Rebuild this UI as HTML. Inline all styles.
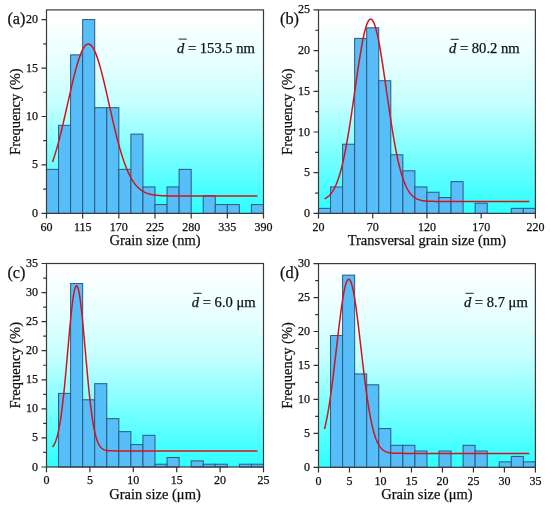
<!DOCTYPE html>
<html><head><meta charset="utf-8"><style>
html,body{margin:0;padding:0;background:#fff;}
body{width:550px;height:508px;overflow:hidden;}
svg{display:block;}
text{font-family:"Liberation Serif", "Times New Roman", serif;fill:#111;stroke:#111;stroke-width:0.25px;}
.tl{font-size:12px;}
.at{font-size:14.5px;}
.pl{font-size:16.3px;}
.dl{font-size:14.6px;}
.it{font-style:italic;}
.bar{fill:#58befa;stroke:#2d587a;stroke-width:1;}
.fit{fill:none;stroke:#d4121c;stroke-width:1.5;stroke-linejoin:round;}
.frame{fill:none;stroke:#3a3a3a;stroke-width:1.2;}
.tick{fill:none;stroke:#333;stroke-width:1.2;}
.ov{fill:none;stroke:#222;stroke-width:1;}
</style></head><body>
<svg width="550" height="508" viewBox="0 0 550 508">
<defs>
<linearGradient id="ga" x1="0" y1="0" x2="0" y2="1"><stop offset="0.000" stop-color="rgb(255,255,255)"/><stop offset="0.044" stop-color="rgb(253,255,255)"/><stop offset="0.270" stop-color="rgb(229,255,255)"/><stop offset="0.467" stop-color="rgb(195,255,255)"/><stop offset="0.664" stop-color="rgb(137,255,255)"/><stop offset="0.836" stop-color="rgb(87,255,255)"/><stop offset="0.940" stop-color="rgb(60,255,255)"/><stop offset="1.000" stop-color="rgb(46,255,255)"/></linearGradient>
<linearGradient id="gb" x1="0" y1="0" x2="0" y2="1"><stop offset="0.000" stop-color="rgb(255,255,255)"/><stop offset="0.044" stop-color="rgb(253,255,255)"/><stop offset="0.270" stop-color="rgb(229,255,255)"/><stop offset="0.467" stop-color="rgb(195,255,255)"/><stop offset="0.664" stop-color="rgb(137,255,255)"/><stop offset="0.836" stop-color="rgb(87,255,255)"/><stop offset="0.940" stop-color="rgb(60,255,255)"/><stop offset="1.000" stop-color="rgb(46,255,255)"/></linearGradient>
<linearGradient id="gc" x1="0" y1="0" x2="0" y2="1"><stop offset="0.000" stop-color="rgb(255,255,255)"/><stop offset="0.044" stop-color="rgb(253,255,255)"/><stop offset="0.270" stop-color="rgb(229,255,255)"/><stop offset="0.467" stop-color="rgb(195,255,255)"/><stop offset="0.664" stop-color="rgb(137,255,255)"/><stop offset="0.836" stop-color="rgb(87,255,255)"/><stop offset="0.940" stop-color="rgb(60,255,255)"/><stop offset="1.000" stop-color="rgb(46,255,255)"/></linearGradient>
<linearGradient id="gd" x1="0" y1="0" x2="0" y2="1"><stop offset="0.000" stop-color="rgb(255,255,255)"/><stop offset="0.044" stop-color="rgb(253,255,255)"/><stop offset="0.270" stop-color="rgb(229,255,255)"/><stop offset="0.467" stop-color="rgb(195,255,255)"/><stop offset="0.664" stop-color="rgb(137,255,255)"/><stop offset="0.836" stop-color="rgb(87,255,255)"/><stop offset="0.940" stop-color="rgb(60,255,255)"/><stop offset="1.000" stop-color="rgb(46,255,255)"/></linearGradient>
</defs>
<g id="pa">
<rect x="46.5" y="9.9" width="217" height="203.5" fill="url(#ga)"/>
<rect class="bar" x="46.5" y="169.36" width="12.06" height="44.04"/>
<rect class="bar" x="58.56" y="125.31" width="12.06" height="88.09"/>
<rect class="bar" x="70.61" y="54.86" width="12.06" height="158.54"/>
<rect class="bar" x="82.67" y="19.59" width="12.06" height="193.81"/>
<rect class="bar" x="94.72" y="107.68" width="12.06" height="105.72"/>
<rect class="bar" x="106.78" y="107.68" width="12.06" height="105.72"/>
<rect class="bar" x="118.83" y="169.36" width="12.06" height="44.04"/>
<rect class="bar" x="130.89" y="134.13" width="12.06" height="79.27"/>
<rect class="bar" x="142.94" y="186.94" width="12.06" height="26.46"/>
<rect class="bar" x="155" y="204.59" width="12.06" height="8.81"/>
<rect class="bar" x="167.06" y="186.94" width="12.06" height="26.46"/>
<rect class="bar" x="179.11" y="169.36" width="12.06" height="44.04"/>
<rect class="bar" x="203.22" y="195.76" width="12.06" height="17.64"/>
<rect class="bar" x="215.28" y="204.59" width="12.06" height="8.81"/>
<rect class="bar" x="227.33" y="204.59" width="12.06" height="8.81"/>
<rect class="bar" x="251.44" y="204.59" width="12.06" height="8.81"/>
<polyline class="fit" points="52.53,161.98 53.21,160.00 53.89,157.95 54.58,155.82 55.26,153.62 55.94,151.35 56.63,149.01 57.31,146.59 57.99,144.12 58.68,141.57 59.36,138.97 60.04,136.30 60.73,133.58 61.41,130.80 62.09,127.98 62.77,125.11 63.46,122.20 64.14,119.25 64.82,116.27 65.51,113.27 66.19,110.25 66.87,107.21 67.56,104.17 68.24,101.13 68.92,98.09 69.61,95.07 70.29,92.06 70.97,89.08 71.66,86.14 72.34,83.24 73.02,80.39 73.71,77.59 74.39,74.86 75.07,72.20 75.75,69.63 76.44,67.14 77.12,64.74 77.80,62.44 78.49,60.25 79.17,58.18 79.85,56.23 80.54,54.40 81.22,52.71 81.90,51.16 82.59,49.74 83.27,48.48 83.95,47.36 84.64,46.40 85.32,45.60 86.00,44.96 86.69,44.49 87.37,44.17 88.05,44.02 88.73,44.04 89.42,44.22 90.10,44.57 90.78,45.08 91.47,45.76 92.15,46.59 92.83,47.58 93.52,48.73 94.20,50.03 94.88,51.47 95.57,53.05 96.25,54.77 96.93,56.63 97.62,58.60 98.30,60.70 98.98,62.91 99.66,65.23 100.35,67.65 101.03,70.16 101.71,72.75 102.40,75.43 103.08,78.17 103.76,80.98 104.45,83.84 105.13,86.75 105.81,89.70 106.50,92.69 107.18,95.69 107.86,98.72 108.55,101.76 109.23,104.81 109.91,107.85 110.60,110.88 111.28,113.90 111.96,116.90 112.64,119.87 113.33,122.81 114.01,125.71 114.69,128.57 115.38,131.39 116.06,134.15 116.74,136.86 117.43,139.52 118.11,142.11 118.79,144.64 119.48,147.10 120.16,149.50 120.84,151.83 121.53,154.08 122.21,156.27 122.89,158.38 123.58,160.42 124.26,162.38 124.94,164.27 125.62,166.09 126.31,167.83 126.99,169.50 127.67,171.10 128.36,172.63 129.04,174.08 129.72,175.47 130.41,176.79 131.09,178.05 131.77,179.24 132.46,180.37 133.14,181.44 133.82,182.45 134.51,183.40 135.19,184.30 135.87,185.15 136.56,185.95 137.24,186.69 137.92,187.39 138.60,188.05 139.29,188.66 139.97,189.24 140.65,189.77 141.34,190.27 142.02,190.74 142.70,191.17 143.39,191.57 144.07,191.94 144.75,192.29 145.44,192.60 146.12,192.90 146.80,193.17 147.49,193.42 148.17,193.65 148.85,193.86 149.53,194.05 150.22,194.23 150.90,194.40 151.58,194.55 152.27,194.68 152.95,194.81 153.63,194.92 154.32,195.02 155.00,195.12 155.68,195.20 156.37,195.28 157.05,195.35 157.73,195.41 158.42,195.47 159.10,195.52 159.78,195.57 160.47,195.61 161.15,195.65 161.83,195.68 162.51,195.71 163.20,195.74 163.88,195.77 164.56,195.79 165.25,195.81 165.93,195.82 166.61,195.84 167.30,195.85 167.98,195.87 168.66,195.88 169.35,195.89 170.03,195.90 170.71,195.90 171.40,195.91 172.08,195.92 172.76,195.92 173.44,195.93 174.13,195.93 174.81,195.93 175.49,195.94 176.18,195.94 176.86,195.94 177.54,195.94 178.23,195.95 178.91,195.95 179.59,195.95 180.28,195.95 180.96,195.95 181.64,195.95 182.33,195.95 183.01,195.95 183.69,195.95 184.38,195.95 185.06,195.95 185.74,195.95 186.42,195.96 187.11,195.96 187.79,195.96 188.47,195.96 189.16,195.96 189.84,195.96 190.52,195.96 191.21,195.96 191.89,195.96 192.57,195.96 193.26,195.96 193.94,195.96 194.62,195.96 195.31,195.96 195.99,195.96 196.67,195.96 197.36,195.96 198.04,195.96 198.72,195.96 199.40,195.96 200.09,195.96 200.77,195.96 201.45,195.96 202.14,195.96 202.82,195.96 203.50,195.96 204.19,195.96 204.87,195.96 205.55,195.96 206.24,195.96 206.92,195.96 207.60,195.96 208.29,195.96 208.97,195.96 209.65,195.96 210.33,195.96 211.02,195.96 211.70,195.96 212.38,195.96 213.07,195.96 213.75,195.96 214.43,195.96 215.12,195.96 215.80,195.96 216.48,195.96 217.17,195.96 217.85,195.96 218.53,195.96 219.22,195.96 219.90,195.96 220.58,195.96 221.27,195.96 221.95,195.96 222.63,195.96 223.31,195.96 224.00,195.96 224.68,195.96 225.36,195.96 226.05,195.96 226.73,195.96 227.41,195.96 228.10,195.96 228.78,195.96 229.46,195.96 230.15,195.96 230.83,195.96 231.51,195.96 232.20,195.96 232.88,195.96 233.56,195.96 234.25,195.96 234.93,195.96 235.61,195.96 236.29,195.96 236.98,195.96 237.66,195.96 238.34,195.96 239.03,195.96 239.71,195.96 240.39,195.96 241.08,195.96 241.76,195.96 242.44,195.96 243.13,195.96 243.81,195.96 244.49,195.96 245.18,195.96 245.86,195.96 246.54,195.96 247.22,195.96 247.91,195.96 248.59,195.96 249.27,195.96 249.96,195.96 250.64,195.96 251.32,195.96 252.01,195.96 252.69,195.96 253.37,195.96 254.06,195.96 254.74,195.96 255.42,195.96 256.11,195.96 256.79,195.96 257.47,195.96"/>
<rect class="frame" x="46.5" y="9.9" width="217" height="203.5"/>
<path class="tick" d="M46.5 213.4v5.2 M82.67 213.4v5.2 M118.83 213.4v5.2 M155 213.4v5.2 M191.17 213.4v5.2 M227.33 213.4v5.2 M263.5 213.4v5.2 M46.5 213.4h-5 M46.5 164.95h-5 M46.5 116.5h-5 M46.5 68.04h-5 M46.5 19.59h-5 M46.5 189.17h-3.3 M46.5 140.72h-3.3 M46.5 92.27h-3.3 M46.5 43.82h-3.3"/>
<text class="tl" x="46.5" y="230.7" text-anchor="middle">60</text>
<text class="tl" x="82.67" y="230.7" text-anchor="middle">115</text>
<text class="tl" x="118.83" y="230.7" text-anchor="middle">170</text>
<text class="tl" x="155" y="230.7" text-anchor="middle">225</text>
<text class="tl" x="191.17" y="230.7" text-anchor="middle">280</text>
<text class="tl" x="227.33" y="230.7" text-anchor="middle">335</text>
<text class="tl" x="263.5" y="230.7" text-anchor="middle">390</text>
<text class="tl" x="38.1" y="216.9" text-anchor="end">0</text>
<text class="tl" x="38.1" y="168.45" text-anchor="end">5</text>
<text class="tl" x="38.1" y="120" text-anchor="end">10</text>
<text class="tl" x="38.1" y="71.54" text-anchor="end">15</text>
<text class="tl" x="38.1" y="23.09" text-anchor="end">20</text>
<text class="at" x="155" y="245.2" text-anchor="middle">Grain size (nm)</text>
<text class="at" transform="translate(20.1,111.65) rotate(-90)" x="0" y="0" text-anchor="middle">Frequency (%)</text>
<text class="pl" x="7.4" y="23.7">(a)</text>
<text class="dl" x="177" y="52.6"><tspan class="it">d</tspan> = 153.5 nm</text>
<path class="ov" d="M178.6 39.1h8.2"/>
</g>
<g id="pb">
<rect x="318.5" y="9.9" width="216.9" height="203.5" fill="url(#gb)"/>
<rect class="bar" x="318.5" y="208.35" width="12.05" height="5.05"/>
<rect class="bar" x="330.55" y="186.94" width="12.05" height="26.46"/>
<rect class="bar" x="342.6" y="144.21" width="12.05" height="69.19"/>
<rect class="bar" x="354.65" y="38.39" width="12.05" height="175.01"/>
<rect class="bar" x="366.7" y="27.81" width="12.05" height="185.59"/>
<rect class="bar" x="378.75" y="80.72" width="12.05" height="132.68"/>
<rect class="bar" x="390.8" y="154.79" width="12.05" height="58.61"/>
<rect class="bar" x="402.85" y="170.83" width="12.05" height="42.57"/>
<rect class="bar" x="414.9" y="186.94" width="12.05" height="26.46"/>
<rect class="bar" x="426.95" y="192.24" width="12.05" height="21.16"/>
<rect class="bar" x="439" y="197.53" width="12.05" height="15.87"/>
<rect class="bar" x="451.05" y="181.65" width="12.05" height="31.75"/>
<rect class="bar" x="475.15" y="203.22" width="12.05" height="10.18"/>
<rect class="bar" x="511.3" y="208.35" width="12.05" height="5.05"/>
<rect class="bar" x="523.35" y="208.35" width="12.05" height="5.05"/>
<polyline class="fit" points="324.52,198.82 325.21,198.48 325.89,198.09 326.57,197.66 327.26,197.18 327.94,196.65 328.62,196.07 329.30,195.42 329.99,194.71 330.67,193.93 331.35,193.07 332.04,192.13 332.72,191.11 333.40,190.00 334.08,188.79 334.77,187.48 335.45,186.06 336.13,184.53 336.82,182.88 337.50,181.10 338.18,179.20 338.86,177.17 339.55,175.00 340.23,172.69 340.91,170.23 341.60,167.63 342.28,164.88 342.96,161.98 343.64,158.92 344.33,155.72 345.01,152.36 345.69,148.86 346.38,145.21 347.06,141.42 347.74,137.50 348.42,133.44 349.11,129.26 349.79,124.97 350.47,120.57 351.16,116.08 351.84,111.51 352.52,106.86 353.20,102.17 353.89,97.43 354.57,92.67 355.25,87.90 355.94,83.14 356.62,78.41 357.30,73.73 357.98,69.12 358.67,64.60 359.35,60.19 360.03,55.90 360.72,51.76 361.40,47.80 362.08,44.02 362.76,40.44 363.45,37.09 364.13,33.99 364.81,31.14 365.50,28.56 366.18,26.27 366.86,24.28 367.54,22.61 368.23,21.25 368.91,20.22 369.59,19.52 370.27,19.15 370.96,19.13 371.64,19.44 372.32,20.10 373.01,21.08 373.69,22.39 374.37,24.03 375.05,25.97 375.74,28.22 376.42,30.76 377.10,33.57 377.79,36.64 378.47,39.95 379.15,43.50 379.83,47.25 380.52,51.19 381.20,55.31 381.88,59.57 382.57,63.97 383.25,68.48 383.93,73.08 384.61,77.75 385.30,82.47 385.98,87.22 386.66,91.99 387.35,96.76 388.03,101.50 388.71,106.20 389.39,110.86 390.08,115.44 390.76,119.94 391.44,124.36 392.13,128.67 392.81,132.86 393.49,136.93 394.17,140.88 394.86,144.69 395.54,148.36 396.22,151.88 396.91,155.25 397.59,158.48 398.27,161.55 398.95,164.48 399.64,167.25 400.32,169.87 401.00,172.35 401.69,174.68 402.37,176.87 403.05,178.92 403.73,180.84 404.42,182.63 405.10,184.30 405.78,185.85 406.47,187.28 407.15,188.61 407.83,189.83 408.51,190.96 409.20,192.00 409.88,192.94 410.56,193.81 411.24,194.60 411.93,195.32 412.61,195.98 413.29,196.57 413.98,197.11 414.66,197.59 415.34,198.03 416.02,198.42 416.71,198.78 417.39,199.09 418.07,199.37 418.76,199.62 419.44,199.85 420.12,200.05 420.80,200.22 421.49,200.38 422.17,200.52 422.85,200.64 423.54,200.74 424.22,200.84 424.90,200.92 425.58,200.99 426.27,201.05 426.95,201.11 427.63,201.15 428.32,201.19 429.00,201.23 429.68,201.26 430.36,201.28 431.05,201.31 431.73,201.33 432.41,201.34 433.10,201.36 433.78,201.37 434.46,201.38 435.14,201.39 435.83,201.40 436.51,201.40 437.19,201.41 437.88,201.41 438.56,201.42 439.24,201.42 439.92,201.42 440.61,201.42 441.29,201.43 441.97,201.43 442.66,201.43 443.34,201.43 444.02,201.43 444.70,201.43 445.39,201.43 446.07,201.43 446.75,201.43 447.44,201.43 448.12,201.43 448.80,201.43 449.48,201.43 450.17,201.43 450.85,201.43 451.53,201.43 452.21,201.43 452.90,201.43 453.58,201.43 454.26,201.43 454.95,201.43 455.63,201.43 456.31,201.43 456.99,201.43 457.68,201.43 458.36,201.43 459.04,201.43 459.73,201.43 460.41,201.43 461.09,201.43 461.77,201.43 462.46,201.43 463.14,201.43 463.82,201.43 464.51,201.43 465.19,201.43 465.87,201.43 466.55,201.43 467.24,201.43 467.92,201.43 468.60,201.43 469.29,201.43 469.97,201.43 470.65,201.43 471.33,201.43 472.02,201.43 472.70,201.43 473.38,201.43 474.07,201.43 474.75,201.43 475.43,201.43 476.11,201.43 476.80,201.43 477.48,201.43 478.16,201.43 478.85,201.43 479.53,201.43 480.21,201.43 480.89,201.43 481.58,201.43 482.26,201.43 482.94,201.43 483.63,201.43 484.31,201.43 484.99,201.43 485.67,201.43 486.36,201.43 487.04,201.43 487.72,201.43 488.40,201.43 489.09,201.43 489.77,201.43 490.45,201.43 491.14,201.43 491.82,201.43 492.50,201.43 493.18,201.43 493.87,201.43 494.55,201.43 495.23,201.43 495.92,201.43 496.60,201.43 497.28,201.43 497.96,201.43 498.65,201.43 499.33,201.43 500.01,201.43 500.70,201.43 501.38,201.43 502.06,201.43 502.74,201.43 503.43,201.43 504.11,201.43 504.79,201.43 505.48,201.43 506.16,201.43 506.84,201.43 507.52,201.43 508.21,201.43 508.89,201.43 509.57,201.43 510.26,201.43 510.94,201.43 511.62,201.43 512.30,201.43 512.99,201.43 513.67,201.43 514.35,201.43 515.04,201.43 515.72,201.43 516.40,201.43 517.08,201.43 517.77,201.43 518.45,201.43 519.13,201.43 519.82,201.43 520.50,201.43 521.18,201.43 521.86,201.43 522.55,201.43 523.23,201.43 523.91,201.43 524.60,201.43 525.28,201.43 525.96,201.43 526.64,201.43 527.33,201.43 528.01,201.43 528.69,201.43 529.38,201.43"/>
<rect class="frame" x="318.5" y="9.9" width="216.9" height="203.5"/>
<path class="tick" d="M318.5 213.4v5.2 M372.73 213.4v5.2 M426.95 213.4v5.2 M481.17 213.4v5.2 M535.4 213.4v5.2 M318.5 213.4h-5 M318.5 172.7h-5 M318.5 132h-5 M318.5 91.3h-5 M318.5 50.6h-5 M318.5 9.9h-5 M318.5 193.05h-3.3 M318.5 152.35h-3.3 M318.5 111.65h-3.3 M318.5 70.95h-3.3 M318.5 30.25h-3.3"/>
<text class="tl" x="318.5" y="230.7" text-anchor="middle">20</text>
<text class="tl" x="372.73" y="230.7" text-anchor="middle">70</text>
<text class="tl" x="426.95" y="230.7" text-anchor="middle">120</text>
<text class="tl" x="481.17" y="230.7" text-anchor="middle">170</text>
<text class="tl" x="535.4" y="230.7" text-anchor="middle">220</text>
<text class="tl" x="310.1" y="216.9" text-anchor="end">0</text>
<text class="tl" x="310.1" y="176.2" text-anchor="end">5</text>
<text class="tl" x="310.1" y="135.5" text-anchor="end">10</text>
<text class="tl" x="310.1" y="94.8" text-anchor="end">15</text>
<text class="tl" x="310.1" y="54.1" text-anchor="end">20</text>
<text class="tl" x="310.1" y="13.4" text-anchor="end">25</text>
<text class="at" x="426.95" y="245.2" text-anchor="middle">Transversal grain size (nm)</text>
<text class="at" transform="translate(292.1,111.65) rotate(-90)" x="0" y="0" text-anchor="middle">Frequency (%)</text>
<text class="pl" x="280" y="23.7">(b)</text>
<text class="dl" x="449" y="52.8"><tspan class="it">d</tspan> = 80.2 nm</text>
<path class="ov" d="M450.6 39.3h8.2"/>
</g>
<g id="pc">
<rect x="46.5" y="263.5" width="217" height="203.5" fill="url(#gc)"/>
<rect class="bar" x="58.56" y="393.39" width="12.06" height="73.61"/>
<rect class="bar" x="70.61" y="283.56" width="12.06" height="183.44"/>
<rect class="bar" x="82.67" y="399.79" width="12.06" height="67.21"/>
<rect class="bar" x="94.72" y="383.68" width="12.06" height="83.32"/>
<rect class="bar" x="106.78" y="418.68" width="12.06" height="48.32"/>
<rect class="bar" x="118.83" y="431.65" width="12.06" height="35.35"/>
<rect class="bar" x="130.89" y="444.62" width="12.06" height="22.38"/>
<rect class="bar" x="142.94" y="435.31" width="12.06" height="31.69"/>
<rect class="bar" x="155" y="464.21" width="12.06" height="2.79"/>
<rect class="bar" x="167.06" y="457.52" width="12.06" height="9.48"/>
<rect class="bar" x="191.17" y="460.89" width="12.06" height="6.11"/>
<rect class="bar" x="203.22" y="464.21" width="12.06" height="2.79"/>
<rect class="bar" x="215.28" y="464.21" width="12.06" height="2.79"/>
<rect class="bar" x="239.39" y="464.21" width="12.06" height="2.79"/>
<rect class="bar" x="251.44" y="464.21" width="12.06" height="2.79"/>
<polyline class="fit" points="52.53,447.01 53.21,446.10 53.89,445.01 54.58,443.72 55.26,442.20 55.94,440.42 56.63,438.36 57.31,435.97 57.99,433.25 58.68,430.15 59.36,426.65 60.04,422.74 60.73,418.40 61.41,413.61 62.09,408.37 62.78,402.70 63.46,396.59 64.14,390.08 64.82,383.21 65.51,376.01 66.19,368.55 66.87,360.90 67.56,353.13 68.24,345.33 68.92,337.60 69.61,330.04 70.29,322.75 70.97,315.85 71.66,309.44 72.34,303.62 73.02,298.49 73.71,294.14 74.39,290.63 75.07,288.05 75.75,286.42 76.44,285.78 77.12,286.14 77.80,287.50 78.49,289.82 79.17,293.08 79.85,297.20 80.54,302.12 81.22,307.76 81.90,314.02 82.59,320.79 83.27,327.98 83.95,335.48 84.64,343.17 85.32,350.96 86.00,358.75 86.69,366.44 87.37,373.96 88.05,381.24 88.73,388.21 89.42,394.82 90.10,401.04 90.78,406.84 91.47,412.20 92.15,417.11 92.83,421.58 93.52,425.61 94.20,429.22 94.88,432.43 95.57,435.25 96.25,437.73 96.93,439.88 97.62,441.73 98.30,443.32 98.98,444.67 99.67,445.81 100.35,446.77 101.03,447.57 101.71,448.23 102.40,448.77 103.08,449.21 103.76,449.57 104.45,449.86 105.13,450.09 105.81,450.27 106.50,450.41 107.18,450.53 107.86,450.62 108.55,450.68 109.23,450.74 109.91,450.78 110.60,450.81 111.28,450.83 111.96,450.85 112.64,450.86 113.33,450.87 114.01,450.88 114.69,450.88 115.38,450.89 116.06,450.89 116.74,450.89 117.43,450.89 118.11,450.89 118.79,450.89 119.48,450.89 120.16,450.89 120.84,450.89 121.53,450.89 122.21,450.89 122.89,450.89 123.58,450.89 124.26,450.89 124.94,450.89 125.62,450.89 126.31,450.89 126.99,450.89 127.67,450.89 128.36,450.89 129.04,450.89 129.72,450.89 130.41,450.89 131.09,450.89 131.77,450.89 132.46,450.89 133.14,450.89 133.82,450.89 134.51,450.89 135.19,450.89 135.87,450.89 136.56,450.89 137.24,450.89 137.92,450.89 138.60,450.89 139.29,450.89 139.97,450.89 140.65,450.89 141.34,450.89 142.02,450.89 142.70,450.89 143.39,450.89 144.07,450.89 144.75,450.89 145.44,450.89 146.12,450.89 146.80,450.89 147.49,450.89 148.17,450.89 148.85,450.89 149.53,450.89 150.22,450.89 150.90,450.89 151.58,450.89 152.27,450.89 152.95,450.89 153.63,450.89 154.32,450.89 155.00,450.89 155.68,450.89 156.37,450.89 157.05,450.89 157.73,450.89 158.42,450.89 159.10,450.89 159.78,450.89 160.47,450.89 161.15,450.89 161.83,450.89 162.51,450.89 163.20,450.89 163.88,450.89 164.56,450.89 165.25,450.89 165.93,450.89 166.61,450.89 167.30,450.89 167.98,450.89 168.66,450.89 169.35,450.89 170.03,450.89 170.71,450.89 171.40,450.89 172.08,450.89 172.76,450.89 173.45,450.89 174.13,450.89 174.81,450.89 175.49,450.89 176.18,450.89 176.86,450.89 177.54,450.89 178.23,450.89 178.91,450.89 179.59,450.89 180.28,450.89 180.96,450.89 181.64,450.89 182.33,450.89 183.01,450.89 183.69,450.89 184.38,450.89 185.06,450.89 185.74,450.89 186.42,450.89 187.11,450.89 187.79,450.89 188.47,450.89 189.16,450.89 189.84,450.89 190.52,450.89 191.21,450.89 191.89,450.89 192.57,450.89 193.26,450.89 193.94,450.89 194.62,450.89 195.31,450.89 195.99,450.89 196.67,450.89 197.36,450.89 198.04,450.89 198.72,450.89 199.40,450.89 200.09,450.89 200.77,450.89 201.45,450.89 202.14,450.89 202.82,450.89 203.50,450.89 204.19,450.89 204.87,450.89 205.55,450.89 206.24,450.89 206.92,450.89 207.60,450.89 208.29,450.89 208.97,450.89 209.65,450.89 210.34,450.89 211.02,450.89 211.70,450.89 212.38,450.89 213.07,450.89 213.75,450.89 214.43,450.89 215.12,450.89 215.80,450.89 216.48,450.89 217.17,450.89 217.85,450.89 218.53,450.89 219.22,450.89 219.90,450.89 220.58,450.89 221.27,450.89 221.95,450.89 222.63,450.89 223.31,450.89 224.00,450.89 224.68,450.89 225.36,450.89 226.05,450.89 226.73,450.89 227.41,450.89 228.10,450.89 228.78,450.89 229.46,450.89 230.15,450.89 230.83,450.89 231.51,450.89 232.20,450.89 232.88,450.89 233.56,450.89 234.25,450.89 234.93,450.89 235.61,450.89 236.29,450.89 236.98,450.89 237.66,450.89 238.34,450.89 239.03,450.89 239.71,450.89 240.39,450.89 241.08,450.89 241.76,450.89 242.44,450.89 243.13,450.89 243.81,450.89 244.49,450.89 245.18,450.89 245.86,450.89 246.54,450.89 247.23,450.89 247.91,450.89 248.59,450.89 249.27,450.89 249.96,450.89 250.64,450.89 251.32,450.89 252.01,450.89 252.69,450.89 253.37,450.89 254.06,450.89 254.74,450.89 255.42,450.89 256.11,450.89 256.79,450.89 257.47,450.89"/>
<rect class="frame" x="46.5" y="263.5" width="217" height="203.5"/>
<path class="tick" d="M46.5 467v5.2 M89.9 467v5.2 M133.3 467v5.2 M176.7 467v5.2 M220.1 467v5.2 M263.5 467v5.2 M46.5 467h-5 M46.5 437.93h-5 M46.5 408.86h-5 M46.5 379.79h-5 M46.5 350.71h-5 M46.5 321.64h-5 M46.5 292.57h-5 M46.5 263.5h-5 M46.5 452.46h-3.3 M46.5 423.39h-3.3 M46.5 394.32h-3.3 M46.5 365.25h-3.3 M46.5 336.18h-3.3 M46.5 307.11h-3.3 M46.5 278.04h-3.3"/>
<text class="tl" x="46.5" y="484.3" text-anchor="middle">0</text>
<text class="tl" x="89.9" y="484.3" text-anchor="middle">5</text>
<text class="tl" x="133.3" y="484.3" text-anchor="middle">10</text>
<text class="tl" x="176.7" y="484.3" text-anchor="middle">15</text>
<text class="tl" x="220.1" y="484.3" text-anchor="middle">20</text>
<text class="tl" x="263.5" y="484.3" text-anchor="middle">25</text>
<text class="tl" x="38.1" y="470.5" text-anchor="end">0</text>
<text class="tl" x="38.1" y="441.43" text-anchor="end">5</text>
<text class="tl" x="38.1" y="412.36" text-anchor="end">10</text>
<text class="tl" x="38.1" y="383.29" text-anchor="end">15</text>
<text class="tl" x="38.1" y="354.21" text-anchor="end">20</text>
<text class="tl" x="38.1" y="325.14" text-anchor="end">25</text>
<text class="tl" x="38.1" y="296.07" text-anchor="end">30</text>
<text class="tl" x="38.1" y="267" text-anchor="end">35</text>
<text class="at" x="155" y="498.8" text-anchor="middle">Grain size (μm)</text>
<text class="at" transform="translate(20.1,365.25) rotate(-90)" x="0" y="0" text-anchor="middle">Frequency (%)</text>
<text class="pl" x="7.4" y="277.6">(c)</text>
<text class="dl" x="191.8" y="306.8"><tspan class="it">d</tspan> = 6.0 μm</text>
<path class="ov" d="M193.4 293.3h8.2"/>
</g>
<g id="pd">
<rect x="318.5" y="263.6" width="216.9" height="203.7" fill="url(#gd)"/>
<rect class="bar" x="330.55" y="335.57" width="12.05" height="131.73"/>
<rect class="bar" x="342.6" y="275.14" width="12.05" height="192.16"/>
<rect class="bar" x="354.65" y="373.94" width="12.05" height="93.36"/>
<rect class="bar" x="366.7" y="384.8" width="12.05" height="82.5"/>
<rect class="bar" x="378.75" y="428.6" width="12.05" height="38.7"/>
<rect class="bar" x="390.8" y="445.3" width="12.05" height="22"/>
<rect class="bar" x="402.85" y="445.3" width="12.05" height="22"/>
<rect class="bar" x="414.9" y="451" width="12.05" height="16.3"/>
<rect class="bar" x="439" y="451" width="12.05" height="16.3"/>
<rect class="bar" x="463.1" y="445.3" width="12.05" height="22"/>
<rect class="bar" x="475.15" y="451" width="12.05" height="16.3"/>
<rect class="bar" x="499.25" y="461.87" width="12.05" height="5.43"/>
<rect class="bar" x="511.3" y="456.44" width="12.05" height="10.86"/>
<rect class="bar" x="523.35" y="461.87" width="12.05" height="5.43"/>
<polyline class="fit" points="324.52,429.03 325.21,426.21 325.89,423.17 326.57,419.89 327.26,416.36 327.94,412.60 328.62,408.59 329.30,404.34 329.99,399.86 330.67,395.15 331.35,390.22 332.04,385.09 332.72,379.78 333.40,374.29 334.08,368.67 334.77,362.92 335.45,357.09 336.13,351.21 336.82,345.30 337.50,339.41 338.18,333.57 338.86,327.83 339.55,322.23 340.23,316.80 340.91,311.59 341.60,306.64 342.28,301.99 342.96,297.69 343.64,293.76 344.33,290.24 345.01,287.17 345.69,284.57 346.38,282.46 347.06,280.87 347.74,279.80 348.42,279.28 349.11,279.29 349.79,279.86 350.47,280.96 351.16,282.59 351.84,284.73 352.52,287.36 353.20,290.47 353.89,294.02 354.57,297.97 355.25,302.30 355.94,306.97 356.62,311.94 357.30,317.16 357.98,322.61 358.67,328.22 359.35,333.97 360.03,339.82 360.72,345.71 361.40,351.62 362.08,357.50 362.76,363.32 363.45,369.06 364.13,374.68 364.81,380.15 365.50,385.45 366.18,390.57 366.86,395.48 367.54,400.18 368.23,404.64 368.91,408.88 369.59,412.87 370.27,416.62 370.96,420.12 371.64,423.39 372.32,426.42 373.01,429.22 373.69,431.79 374.37,434.15 375.05,436.31 375.74,438.27 376.42,440.05 377.10,441.66 377.79,443.10 378.47,444.40 379.15,445.55 379.83,446.58 380.52,447.49 381.20,448.30 381.88,449.01 382.57,449.63 383.25,450.17 383.93,450.65 384.61,451.06 385.30,451.41 385.98,451.72 386.66,451.98 387.35,452.21 388.03,452.40 388.71,452.56 389.39,452.70 390.08,452.82 390.76,452.91 391.44,453.00 392.13,453.07 392.81,453.12 393.49,453.17 394.17,453.21 394.86,453.24 395.54,453.27 396.22,453.29 396.91,453.31 397.59,453.32 398.27,453.33 398.95,453.34 399.64,453.35 400.32,453.36 401.00,453.36 401.69,453.37 402.37,453.37 403.05,453.37 403.73,453.37 404.42,453.38 405.10,453.38 405.78,453.38 406.46,453.38 407.15,453.38 407.83,453.38 408.51,453.38 409.20,453.38 409.88,453.38 410.56,453.38 411.24,453.38 411.93,453.38 412.61,453.38 413.29,453.38 413.98,453.38 414.66,453.38 415.34,453.38 416.02,453.38 416.71,453.38 417.39,453.38 418.07,453.38 418.76,453.38 419.44,453.38 420.12,453.38 420.80,453.38 421.49,453.38 422.17,453.38 422.85,453.38 423.54,453.38 424.22,453.38 424.90,453.38 425.58,453.38 426.27,453.38 426.95,453.38 427.63,453.38 428.32,453.38 429.00,453.38 429.68,453.38 430.36,453.38 431.05,453.38 431.73,453.38 432.41,453.38 433.10,453.38 433.78,453.38 434.46,453.38 435.14,453.38 435.83,453.38 436.51,453.38 437.19,453.38 437.88,453.38 438.56,453.38 439.24,453.38 439.92,453.38 440.61,453.38 441.29,453.38 441.97,453.38 442.66,453.38 443.34,453.38 444.02,453.38 444.70,453.38 445.39,453.38 446.07,453.38 446.75,453.38 447.43,453.38 448.12,453.38 448.80,453.38 449.48,453.38 450.17,453.38 450.85,453.38 451.53,453.38 452.21,453.38 452.90,453.38 453.58,453.38 454.26,453.38 454.95,453.38 455.63,453.38 456.31,453.38 456.99,453.38 457.68,453.38 458.36,453.38 459.04,453.38 459.73,453.38 460.41,453.38 461.09,453.38 461.77,453.38 462.46,453.38 463.14,453.38 463.82,453.38 464.51,453.38 465.19,453.38 465.87,453.38 466.55,453.38 467.24,453.38 467.92,453.38 468.60,453.38 469.29,453.38 469.97,453.38 470.65,453.38 471.33,453.38 472.02,453.38 472.70,453.38 473.38,453.38 474.07,453.38 474.75,453.38 475.43,453.38 476.11,453.38 476.80,453.38 477.48,453.38 478.16,453.38 478.85,453.38 479.53,453.38 480.21,453.38 480.89,453.38 481.58,453.38 482.26,453.38 482.94,453.38 483.63,453.38 484.31,453.38 484.99,453.38 485.67,453.38 486.36,453.38 487.04,453.38 487.72,453.38 488.40,453.38 489.09,453.38 489.77,453.38 490.45,453.38 491.14,453.38 491.82,453.38 492.50,453.38 493.18,453.38 493.87,453.38 494.55,453.38 495.23,453.38 495.92,453.38 496.60,453.38 497.28,453.38 497.96,453.38 498.65,453.38 499.33,453.38 500.01,453.38 500.70,453.38 501.38,453.38 502.06,453.38 502.74,453.38 503.43,453.38 504.11,453.38 504.79,453.38 505.48,453.38 506.16,453.38 506.84,453.38 507.52,453.38 508.21,453.38 508.89,453.38 509.57,453.38 510.26,453.38 510.94,453.38 511.62,453.38 512.30,453.38 512.99,453.38 513.67,453.38 514.35,453.38 515.04,453.38 515.72,453.38 516.40,453.38 517.08,453.38 517.77,453.38 518.45,453.38 519.13,453.38 519.82,453.38 520.50,453.38 521.18,453.38 521.86,453.38 522.55,453.38 523.23,453.38 523.91,453.38 524.60,453.38 525.28,453.38 525.96,453.38 526.64,453.38 527.33,453.38 528.01,453.38 528.69,453.38 529.38,453.38"/>
<rect class="frame" x="318.5" y="263.6" width="216.9" height="203.7"/>
<path class="tick" d="M318.5 467.3v5.2 M349.49 467.3v5.2 M380.47 467.3v5.2 M411.46 467.3v5.2 M442.44 467.3v5.2 M473.43 467.3v5.2 M504.41 467.3v5.2 M535.4 467.3v5.2 M318.5 467.3h-5 M318.5 433.35h-5 M318.5 399.4h-5 M318.5 365.45h-5 M318.5 331.5h-5 M318.5 297.55h-5 M318.5 263.6h-5 M318.5 450.32h-3.3 M318.5 416.38h-3.3 M318.5 382.43h-3.3 M318.5 348.48h-3.3 M318.5 314.53h-3.3 M318.5 280.58h-3.3"/>
<text class="tl" x="318.5" y="484.6" text-anchor="middle">0</text>
<text class="tl" x="349.49" y="484.6" text-anchor="middle">5</text>
<text class="tl" x="380.47" y="484.6" text-anchor="middle">10</text>
<text class="tl" x="411.46" y="484.6" text-anchor="middle">15</text>
<text class="tl" x="442.44" y="484.6" text-anchor="middle">20</text>
<text class="tl" x="473.43" y="484.6" text-anchor="middle">25</text>
<text class="tl" x="504.41" y="484.6" text-anchor="middle">30</text>
<text class="tl" x="535.4" y="484.6" text-anchor="middle">35</text>
<text class="tl" x="310.1" y="470.8" text-anchor="end">0</text>
<text class="tl" x="310.1" y="436.85" text-anchor="end">5</text>
<text class="tl" x="310.1" y="402.9" text-anchor="end">10</text>
<text class="tl" x="310.1" y="368.95" text-anchor="end">15</text>
<text class="tl" x="310.1" y="335" text-anchor="end">20</text>
<text class="tl" x="310.1" y="301.05" text-anchor="end">25</text>
<text class="tl" x="310.1" y="267.1" text-anchor="end">30</text>
<text class="at" x="426.95" y="499.1" text-anchor="middle">Grain size (μm)</text>
<text class="at" transform="translate(292.1,365.45) rotate(-90)" x="0" y="0" text-anchor="middle">Frequency (%)</text>
<text class="pl" x="280" y="277.6">(d)</text>
<text class="dl" x="463.9" y="306.8"><tspan class="it">d</tspan> = 8.7 μm</text>
<path class="ov" d="M465.5 293.3h8.2"/>
</g>
</svg>
</body></html>
